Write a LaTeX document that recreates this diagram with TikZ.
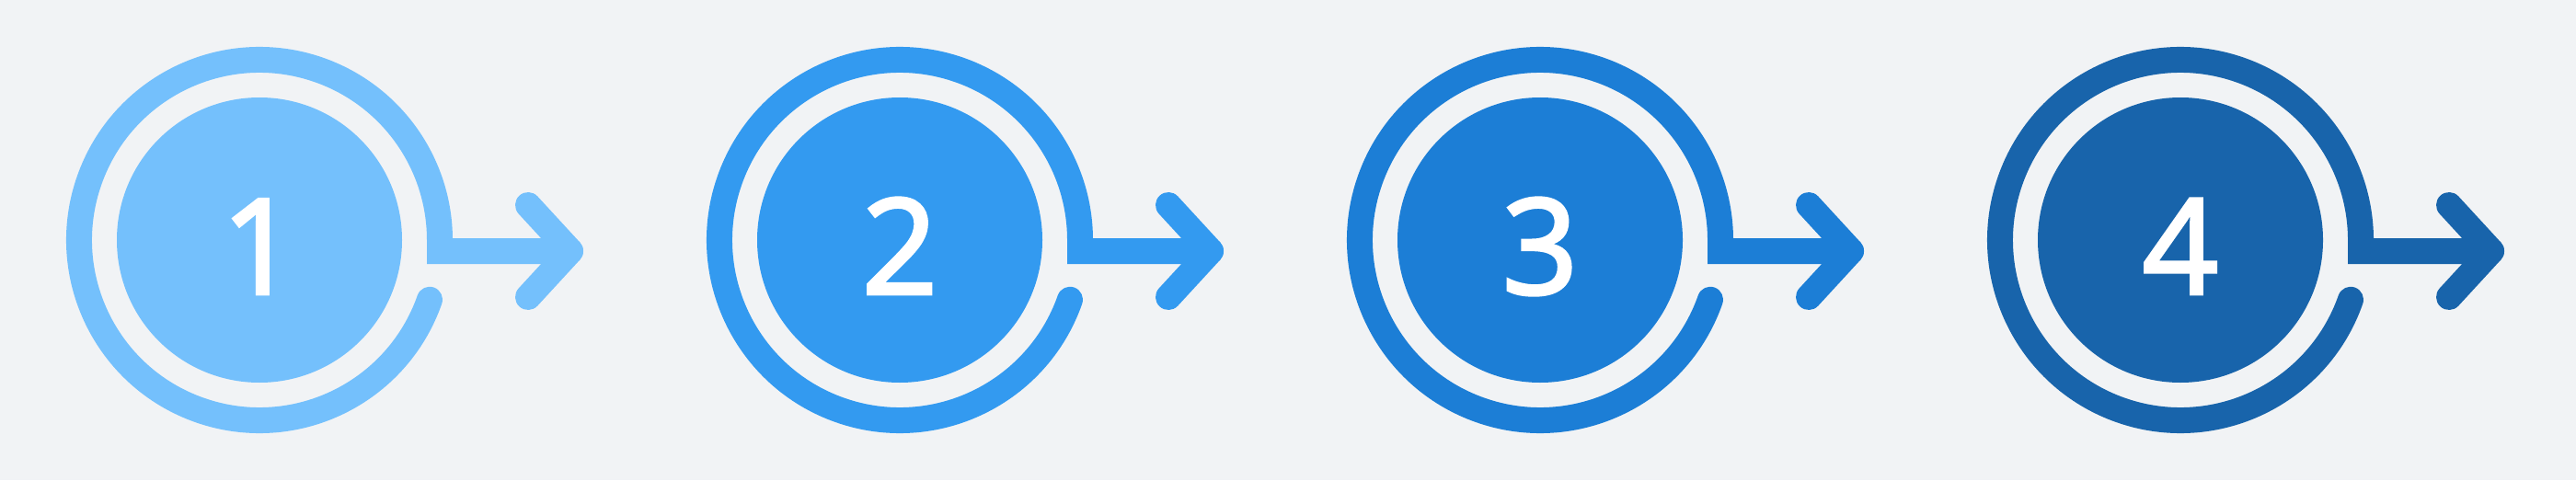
\documentclass[tikz,border=0pt]{standalone}
\usepackage{fontspec}
\setmainfont{Open Sans}[FakeBold=2.5]
\usepackage{xcolor}
\usepackage{tikz}
\usetikzlibrary{calc}
\definecolor{stepone}{HTML}{74C0FC}
\definecolor{steptwo}{HTML}{339AF0}
\definecolor{stepthree}{HTML}{1C7ED6}
\definecolor{stepfour}{HTML}{1864AB}
\definecolor{bggray}{HTML}{F1F3F5}

\begin{document}
\begin{tikzpicture}[
    stepdot/.style={circle, fill=#1, minimum size=3.1cm, inner sep=0pt, text=white, font=\fontsize{41}{41}\selectfont, text height=1.17cm, text depth=0pt},
    ring/.style={draw=#1, line width=0.28cm, line cap=round, line join=miter},
    chevron/.style={draw=#1, line width=0.28cm, line cap=round, line join=round}
]

% Background
\useasboundingbox (0,0) rectangle (28,5.22);
\fill[bggray] (0,0) rectangle (28,5.22);

% Step circles
\node[stepdot=stepone] (s1) at (2.82,2.61) {1};
\node[stepdot=steptwo] (s2) at (9.78,2.61) {2};
\node[stepdot=stepthree] (s3) at (16.74,2.61) {3};
\node[stepdot=stepfour] (s4) at (23.70,2.61) {4};

% Open rings running out into the arrows
\draw[ring=stepone] (s1.center) ++(-19.3:1.96) arc[start angle=-19.3, end angle=-360, radius=1.96] -- ++(0,-0.12) -- ++(1.42,0) coordinate (tip1);
\draw[ring=steptwo] (s2.center) ++(-19.3:1.96) arc[start angle=-19.3, end angle=-360, radius=1.96] -- ++(0,-0.12) -- ++(1.42,0) coordinate (tip2);
\draw[ring=stepthree] (s3.center) ++(-19.3:1.96) arc[start angle=-19.3, end angle=-360, radius=1.96] -- ++(0,-0.12) -- ++(1.42,0) coordinate (tip3);
\draw[ring=stepfour] (s4.center) ++(-19.3:1.96) arc[start angle=-19.3, end angle=-360, radius=1.96] -- ++(0,-0.12) -- ++(1.42,0) coordinate (tip4);

% Arrow heads
\draw[chevron=stepone] ($(tip1)+(-0.46,0.5)$) -- (tip1) -- ++(-0.46,-0.5);
\draw[chevron=steptwo] ($(tip2)+(-0.46,0.5)$) -- (tip2) -- ++(-0.46,-0.5);
\draw[chevron=stepthree] ($(tip3)+(-0.46,0.5)$) -- (tip3) -- ++(-0.46,-0.5);
\draw[chevron=stepfour] ($(tip4)+(-0.46,0.5)$) -- (tip4) -- ++(-0.46,-0.5);

\end{tikzpicture}
\end{document}
